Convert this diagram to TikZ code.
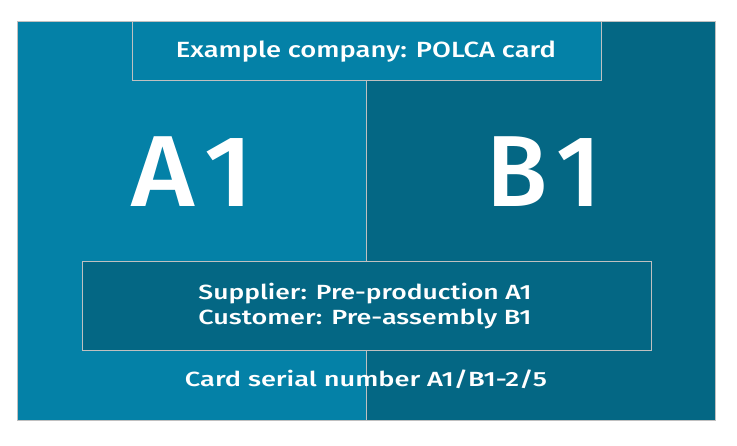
\documentclass[tikz,border=0pt]{standalone}
\usepackage{fontspec}
\usepackage{graphicx}
\setmainfont{Fira Sans}[UprightFont=* Medium, BoldFont=* SemiBold, FakeStretch=1.12]
\definecolor{cardlight}{RGB}{4,129,167}
\definecolor{carddark}{RGB}{4,103,132}
\definecolor{cardline}{RGB}{192,192,192}
\newcommand{\fitw}[2]{\resizebox{#1pt}{\height}{#2}}
\begin{document}
\begin{tikzpicture}[x=1pt,y=-1pt,
  frame/.style={draw=cardline,line width=1pt},
  txt/.style={text=white,inner sep=0pt,anchor=base},
  big/.style={txt,font=\fontsize{101}{101}\selectfont},
  mid/.style={txt,font=\fontsize{22}{26}\selectfont},
  small/.style={txt,font=\fontsize{20.5}{25}\selectfont}]
\useasboundingbox[fill=white] (0,0) rectangle (737,445);
% halves
\fill[cardlight] (17.3,21.3) rectangle (366.3,420.3);
\fill[carddark] (366.3,21.3) rectangle (715.3,420.3);
\draw[frame] (366.3,21.3) -- (366.3,420.3);
% boxes
\draw[frame,fill=cardlight] (132.3,21.3) rectangle (601.3,80.3);
\draw[frame,fill=carddark] (82.3,261.3) rectangle (651.3,350.3);
\draw[frame] (17.3,21.3) rectangle (715.3,420.3);
% texts
\node[mid] (title) at (366,57.7) {\fitw{380}{Example company: POLCA card}};
\node[big] (a1) at (192,206) {\fitw{122}{A\kern 0.1em 1}};
\node[big] (b1) at (544,206) {\fitw{115}{B\kern 0.1em 1}};
\node[small] (sup) at (365,299) {\fitw{333}{Supplier: Pre-production A1}};
\node[small] (cus) at (365,324.3) {\fitw{333}{Customer: Pre-assembly B1}};
\node[small] (serial) at (366,386) {\fitw{362}{Card serial number A1/B1-2/5}};
\end{tikzpicture}
\end{document}
